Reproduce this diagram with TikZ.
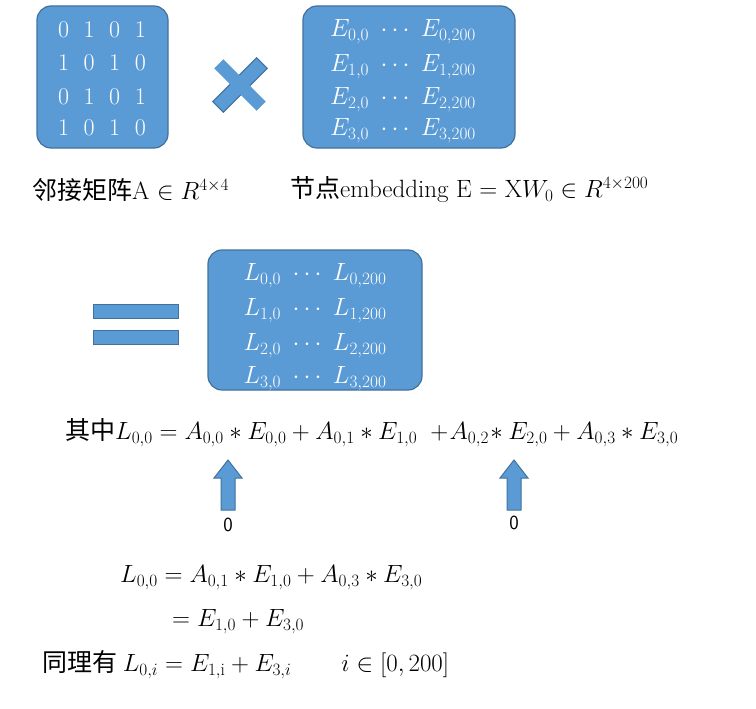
\documentclass[tikz,border=0pt]{standalone}
\usepackage{fontspec}
\newfontfamily\cjk{Noto Sans CJK SC}
\definecolor{bfill}{HTML}{5B9BD5}
\definecolor{bline}{HTML}{41719C}
\tikzset{
  mbox/.style={draw=bline,line width=1.2pt,fill=bfill,rounded corners=14pt},
  wt/.style={text=white,font=\fontsize{24}{26}\selectfont,anchor=center},
  eq/.style={font=\fontsize{25}{28}\selectfont,anchor=west,inner sep=0pt},
  uparrow/.style={fill=bfill,draw=bline,line width=1pt}
}
\begin{document}
\begin{tikzpicture}[x=1pt,y=-1pt]
\useasboundingbox (0,0) rectangle (756,709);
% box 1
\node[mbox,minimum width=131pt,minimum height=142pt] (A) at (102.5,77) {};
\foreach \r/\y in {0/30,1/63,2/97,3/128}{
  \pgfmathparse{mod(\r,2)==0?1:0}
  \ifnum\pgfmathresult=1
    \node[wt] (a\r) at (102,\y) {0\ \ 1\ \ 0\ \ 1};
  \else
    \node[wt] (a\r) at (102,\y) {1\ \ 0\ \ 1\ \ 0};
  \fi
}
% cross
\node[fill=bfill,draw=bline,line width=1pt,minimum width=62pt,minimum height=15pt,rotate=45,inner sep=0pt] (c1) at (240,85) {};
\node[fill=bfill,minimum width=60pt,minimum height=13pt,rotate=-45,inner sep=0pt] (c2) at (240,85) {};
% box 2
\node[mbox,minimum width=212pt,minimum height=142pt] (E) at (409,77) {};
\foreach \r/\y in {0/32,1/67,2/100,3/131}{
  \node[wt] (e\r) at (403,\y) {$E_{\r,0}\ \cdots\ E_{\r,200}$};
}
\node[eq] (la) at (32,190) {\cjk 邻接矩阵\rmfamily A $\in R^{4\times4}$};
\node[eq] (le) at (290,190) {\cjk 节点\rmfamily embedding\ E $=$\ X$W_0\in R^{4\times 200}$};
% equals
\node[fill=bfill,draw=bline,line width=1pt,minimum width=85pt,minimum height=14pt,inner sep=0pt] (q1) at (135.5,311) {};
\node[fill=bfill,draw=bline,line width=1pt,minimum width=85pt,minimum height=14pt,inner sep=0pt] (q2) at (135.5,337) {};
% box 3
\node[mbox,minimum width=214pt,minimum height=140pt] (L) at (315,320) {};
\foreach \r/\y in {0/276,1/311,2/346,3/379}{
  \node[wt] (l\r) at (315,\y) {$L_{\r,0}\ \cdots\ L_{\r,200}$};
}
\node[eq] (eq1) at (65,433) {\cjk 其中\rmfamily$L_{0,0}=A_{0,0}*E_{0,0}+A_{0,1}*E_{1,0}\ +\!A_{0,2}\!*E_{2,0}+A_{0,3}*E_{3,0}$};
% arrows
\foreach \n/\x in {ar1/228,ar2/514}{
  \draw[uparrow] (\x-7,510) -- (\x-7,478) -- (\x-14,478) -- (\x,460) -- (\x+14,478) -- (\x+7,478) -- (\x+7,510) -- cycle;
}
\node[font=\fontsize{20}{22}\selectfont\sffamily] (z1) at (228,525) {0};
\node[font=\fontsize{20}{22}\selectfont\sffamily] (z2) at (514,523) {0};
\node[eq] (eq2) at (120,578) {$L_{0,0}=A_{0,1}*E_{1,0}+A_{0,3}*E_{3,0}$};
\node[eq] (eq3) at (172,622) {$=E_{1,0}+E_{3,0}$};
\node[eq] (eq4) at (42,665) {\cjk 同理有\ \rmfamily$L_{0,i}=E_{1,\mathrm{i}}+E_{3,i}\qquad i\in[0,200]$};
\end{tikzpicture}
\end{document}
